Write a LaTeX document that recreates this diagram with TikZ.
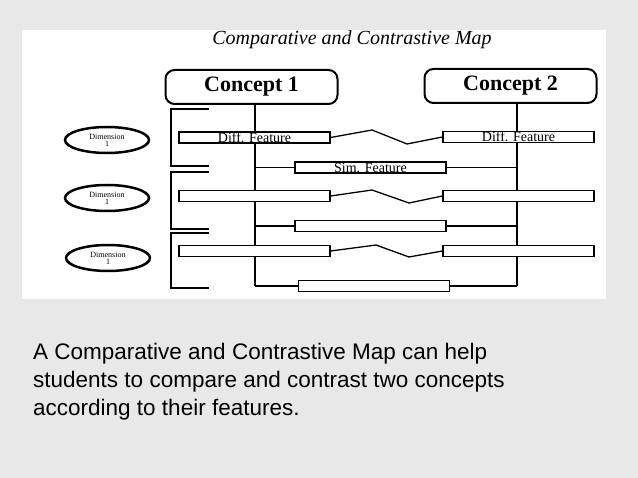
\documentclass[tikz,border=0pt]{standalone}
\usepackage{fontspec}
\setmainfont{Liberation Serif}
\newfontfamily\capfont{Liberation Sans}
\usetikzlibrary{shapes.geometric}
\begin{document}
\begin{tikzpicture}[x=1pt,y=-1pt,
  feat/.style={draw,fill=white,line width=1.3pt,minimum width=151pt,minimum height=11pt,inner sep=0pt,font=\fontsize{14}{10}\selectfont},
  concept/.style={draw,fill=white,line width=2pt,rounded corners=9pt,minimum width=172pt,minimum height=34pt,font=\bfseries\fontsize{22}{22}\selectfont},
  dim/.style={draw,ellipse,line width=2.5pt,minimum width=84pt,minimum height=26pt,inner sep=0pt,align=center,font=\fontsize{8}{7}\selectfont},
  ln/.style={line width=1.3pt}]
\useasboundingbox (0,0) rectangle (638,478);
\fill[gray!18] (0,0) rectangle (638,478);
\fill[white] (22,30) rectangle (606,299);
\node[font=\itshape\fontsize{20}{20}\selectfont] (title) at (352,40) {Comparative and Contrastive Map};
\coordinate (l1) at (255,286); \coordinate (r1) at (517,286);
\draw[ln] (255,100) -- (l1);
\draw[ln] (517,100) -- (r1);
\draw[ln] (255,167.5) -- (517,167.5);
\draw[ln] (255,226) -- (517,226);
\draw[ln] (l1) -- (r1);
\node[concept] (c1) at (251.5,87) {Concept 1};
\node[concept] (c2) at (510.5,86) {Concept 2};
% rows
\node[feat] (d1l) at (254.5,137.5) {Diff. Feature};
\node[feat] (d1r) at (518.5,137) {Diff. Feature};
\node[feat] (s1) at (370.5,167.5) {Sim. Feature};
\node[feat] (d2l) at (254.5,196) {};
\node[feat] (d2r) at (518.5,196) {};
\node[feat] (s2) at (370.5,226) {};
\node[feat] (d3l) at (254.5,251) {};
\node[feat] (d3r) at (518.5,251) {};
\node[feat] (s3) at (374,286) {};
\draw[ln] (d1l.east) -- (372,130) -- (407,144) -- (d1r.west);
\draw[ln] (d2l.east) -- (372,190) -- (409,203) -- (d2r.west);
\draw[ln] (d3l.east) -- (376,245) -- (409,257) -- (d3r.west);
% brackets
\draw[ln] (209,109) -- (171,109) -- (171,166) -- (209,166);
\draw[ln] (209,172) -- (171,172) -- (171,229) -- (209,229);
\draw[ln] (209,233) -- (171,233) -- (171,288) -- (209,288);
\node[dim] (e1) at (107,140) {Dimension\\1};
\node[dim] (e2) at (107,198) {Dimension\\1};
\node[dim] (e3) at (108,258) {Dimension\\1};
\node[anchor=north west,align=left,font=\capfont\fontsize{22.5}{28}\selectfont,inner sep=0pt] (cap) at (33,343) {A Comparative and Contrastive Map can help\\students to compare and contrast two concepts\\according to their features.};
\end{tikzpicture}
\end{document}
